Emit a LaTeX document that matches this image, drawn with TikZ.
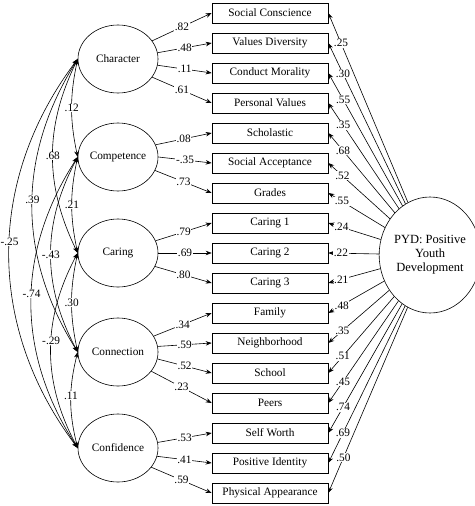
\documentclass[tikz,border=0pt]{standalone}
\usepackage{fontspec}
\setmainfont{Liberation Serif}
\usetikzlibrary{shapes.geometric,arrows.meta}

\begin{document}
\begin{tikzpicture}[x=1pt,y=-1pt,line width=0.6pt,>={Stealth[length=6pt,width=4.5pt]},
  font=\fontsize{11.3}{13}\selectfont,
  latent/.style={draw,ellipse,minimum width=80pt,minimum height=68pt,inner sep=0pt},
  obs/.style={draw,rectangle,minimum width=116pt,minimum height=20pt,inner sep=0pt},
  lbl/.style={fill=white,inner sep=0.6pt}]
\useasboundingbox (0,0) rectangle (474,506);
% latent factors
\node[latent] (char)at(118,59){Character};
\node[latent] (comp)at(118,157){Competence};
\node[latent] (car)at(118,253){Caring};
\node[latent] (conn)at(118,352){Connection};
\node[latent] (conf)at(118,448){Confidence};
\node[draw,ellipse,minimum width=84pt,minimum height=116pt,inner sep=0pt,align=center,
  font=\fontsize{12.5}{14}\selectfont] (pyd)at(430,255){PYD: Positive\\Youth\\Development};
% indicators
\node[obs] (sc)at(270,13){Social Conscience};
\node[obs] (vd)at(270,43){Values Diversity};
\node[obs] (cm)at(270,73){Conduct Morality};
\node[obs] (pv)at(270,103){Personal Values};
\node[obs] (sch)at(270,133){Scholastic};
\node[obs] (sa)at(270,163){Social Acceptance};
\node[obs] (gr)at(270,193){Grades};
\node[obs] (cr1)at(270,223){Caring 1};
\node[obs] (cr2)at(270,253){Caring 2};
\node[obs] (cr3)at(270,283){Caring 3};
\node[obs] (fam)at(270,313){Family};
\node[obs] (nb)at(270,343){Neighborhood};
\node[obs] (sco)at(270,373){School};
\node[obs] (peer)at(270,403){Peers};
\node[obs] (sw)at(270,433){Self Worth};
\node[obs] (pi)at(270,463){Positive Identity};
\node[obs] (pa)at(270,493){Physical Appearance};
% loadings
\draw[->] (char.28) -- node[lbl]{.82} (sc.west);
\draw[->] (char.9) -- node[lbl]{.48} (vd.west);
\draw[->] (char.-9) -- node[lbl]{.11} (cm.west);
\draw[->] (char.-28) -- node[lbl]{.61} (pv.west);
\draw[->] (comp.18) -- node[lbl]{.08} (sch.west);
\draw[->] (comp.0) -- node[lbl]{-.35} (sa.west);
\draw[->] (comp.-20) -- node[lbl]{.73} (gr.west);
\draw[->] (car.18) -- node[lbl]{.79} (cr1.west);
\draw[->] (car.0) -- node[lbl]{.69} (cr2.west);
\draw[->] (car.-20) -- node[lbl]{.80} (cr3.west);
\draw[->] (conn.24) -- node[lbl]{.34} (fam.west);
\draw[->] (conn.8) -- node[lbl]{.59} (nb.west);
\draw[->] (conn.-10) -- node[lbl]{.52} (sco.west);
\draw[->] (conn.-30) -- node[lbl]{.23} (peer.west);
\draw[->] (conf.8) -- node[lbl]{.53} (sw.west);
\draw[->] (conf.-12) -- node[lbl]{.41} (pi.west);
\draw[->] (conf.-30) -- node[lbl]{.59} (pa.west);
% second order
\draw[<-] (sc.east) -- node[lbl,pos=0.16]{.25} (pyd);
\draw[<-] (vd.east) -- node[lbl,pos=0.19]{.30} (pyd);
\draw[<-] (cm.east) -- node[lbl,pos=0.2]{.55} (pyd);
\draw[<-] (pv.east) -- node[lbl,pos=0.21]{.35} (pyd);
\draw[<-] (sch.east) -- node[lbl,pos=0.22]{.68} (pyd);
\draw[<-] (sa.east) -- node[lbl,pos=0.23]{.52} (pyd);
\draw[<-] (gr.east) -- node[lbl,pos=0.24]{.55} (pyd);
\draw[<-] (cr1.east) -- node[lbl,pos=0.25]{.24} (pyd);
\draw[<-] (cr2.east) -- node[lbl,pos=0.25]{.22} (pyd);
\draw[<-] (cr3.east) -- node[lbl,pos=0.25]{.21} (pyd);
\draw[<-] (fam.east) -- node[lbl,pos=0.24]{.48} (pyd);
\draw[<-] (nb.east) -- node[lbl,pos=0.23]{.35} (pyd);
\draw[<-] (sco.east) -- node[lbl,pos=0.22]{.51} (pyd);
\draw[<-] (peer.east) -- node[lbl,pos=0.21]{.45} (pyd);
\draw[<-] (sw.east) -- node[lbl,pos=0.2]{.74} (pyd);
\draw[<-] (pi.east) -- node[lbl,pos=0.19]{.69} (pyd);
\draw[<-] (pa.east) -- node[lbl,pos=0.19]{.50} (pyd);
% correlations
\draw[<->] (char.west) to[bend right=12] node[lbl]{.12} (comp.west);
\draw[<->] (char.west) to[bend right=26] node[lbl]{.68} (car.west);
\draw[<->] (char.west) to[bend right=32] node[lbl,pos=0.48]{.39} (conn.west);
\draw[<->] (char.west) to[bend right=37] node[lbl,pos=0.47]{-.25} (conf.west);
\draw[<->] (comp.west) to[bend right=12] node[lbl]{.21} (car.west);
\draw[<->] (comp.west) to[bend right=28] node[lbl]{-.43} (conn.west);
\draw[<->] (comp.west) to[bend right=33] node[lbl,pos=0.47]{-.74} (conf.west);
\draw[<->] (car.west) to[bend right=12] node[lbl]{.30} (conn.west);
\draw[<->] (car.west) to[bend right=28] node[lbl,pos=0.45]{-.29} (conf.west);
\draw[<->] (conn.west) to[bend right=14] node[lbl,pos=0.45]{.11} (conf.west);
\end{tikzpicture}
\end{document}
